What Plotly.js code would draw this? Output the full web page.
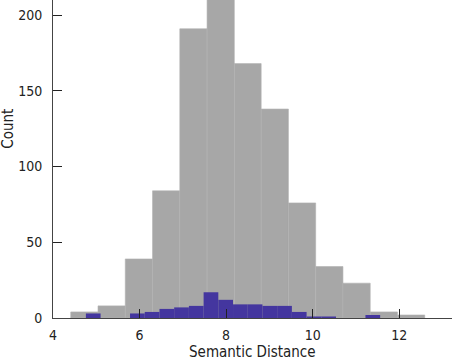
<!DOCTYPE html>
<html>
<head>
<meta charset="utf-8">
<script src="https://cdn.plot.ly/plotly-3.0.1.min.js"></script>
<style>html,body{margin:0;padding:0;background:#fff;}#chart{width:474px;height:361px;}</style>
</head>
<body>
<div id="chart"></div>
<script>
// All pairs: histogram bin edges and counts
const allEdges = [4.41, 5.04, 5.67, 6.30, 6.93, 7.56, 8.19, 8.81, 9.44, 10.07, 10.70, 11.33, 11.96, 12.59];
const allCounts = [4, 8, 39, 84, 191, 222, 168, 138, 76, 34, 23, 4, 2];

// Subset: histogram bin edges and counts
const subEdges = [4.76, 5.10, 5.44, 5.78, 6.12, 6.46, 6.80, 7.14, 7.48, 7.82, 8.16, 8.50, 8.84, 9.18, 9.52, 9.86, 10.20, 10.54, 10.88, 11.22, 11.56];
const subCounts = [3, 0, 0, 3, 4, 6, 7, 8, 17, 12, 9, 9, 8, 8, 4, 1, 1, 0, 0, 2];

const xTicks = [4, 6, 8, 10, 12];
const yTicks = [0, 50, 100, 150, 200];
const xLabel = 'Semantic Distance';
const yLabel = 'Count';

function centers(edges) { return edges.slice(0, -1).map((e, i) => (e + edges[i + 1]) / 2); }
function widths(edges) { return edges.slice(0, -1).map((e, i) => edges[i + 1] - e); }

const font = '"Liberation Sans Narrow", "DejaVu Sans Condensed", "Arial Narrow", sans-serif';

const traces = [
  {
    type: 'bar', x: centers(allEdges), y: allCounts, width: widths(allEdges),
    marker: {color: '#a7a7a7', line: {color: '#b2b2b2', width: 0.6}},
    hoverinfo: 'skip'
  },
  {
    type: 'bar', x: centers(subEdges), y: subCounts, width: widths(subEdges),
    marker: {color: '#44369f', line: {width: 0}},
    hoverinfo: 'skip'
  }
];

const layout = {
  width: 474, height: 361,
  margin: {l: 53, r: 22, t: 0, b: 43},
  barmode: 'overlay',
  showlegend: false,
  paper_bgcolor: '#fff', plot_bgcolor: '#fff',
  font: {family: font, size: 14, color: '#222'},
  xaxis: {
    range: [4, 13.22], tickvals: xTicks, ticktext: xTicks.map(String),
    ticks: 'inside', ticklen: 9, tickwidth: 1, tickcolor: '#222',
    showline: true, linecolor: '#444', linewidth: 1, showgrid: false, zeroline: false,
    ticklabelstandoff: 4
  },
  yaxis: {
    range: [0, 210], tickvals: yTicks, ticktext: yTicks.map(String),
    ticks: 'inside', ticklen: 9, tickwidth: 1, tickcolor: '#222',
    showline: true, linecolor: '#444', linewidth: 1, showgrid: false, zeroline: false,
    ticklabelstandoff: 7
  },
  annotations: [
    {
      text: yLabel, textangle: -90, xref: 'paper', yref: 'paper',
      x: 0, xshift: -45, y: 0.595, showarrow: false, xanchor: 'center', yanchor: 'middle',
      font: {family: font, size: 15, color: '#222'}
    },
    {
      text: xLabel, xref: 'paper', yref: 'paper',
      x: 0.5, y: 0, yshift: -34, showarrow: false, xanchor: 'center', yanchor: 'middle',
      font: {family: font, size: 15, color: '#222'}
    }
  ]
};

Plotly.newPlot('chart', traces, layout, {staticPlot: true, displayModeBar: false});
</script>
</body>
</html>
